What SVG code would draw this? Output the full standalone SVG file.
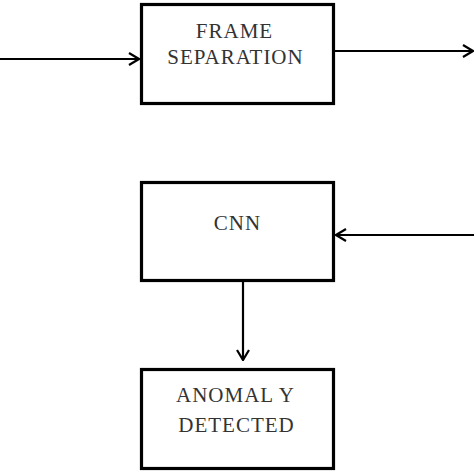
<svg xmlns="http://www.w3.org/2000/svg" width="474" height="474" viewBox="0 0 474 474">
<style>
.box{fill:#fff;stroke:#000;stroke-width:3.2}
.t{font-family:"Liberation Serif","Times New Roman",serif;font-size:21px;fill:#333;text-anchor:middle;letter-spacing:1px}
.c{stroke:#000;stroke-width:2.2;fill:none}
</style>
<defs>
<marker id="ah" viewBox="0 0 12 14" refX="11" refY="7" markerWidth="12" markerHeight="14" markerUnits="userSpaceOnUse" orient="auto">
<path d="M1,1 L11,7 L1,13" fill="none" stroke="#000" stroke-width="2.2"/>
</marker>
</defs>
<rect width="474" height="474" fill="#fff"/>
<g id="connectors">
<line class="c" x1="0" y1="59" x2="139" y2="59" marker-end="url(#ah)"/>
<line class="c" x1="335" y1="51" x2="473" y2="51" marker-end="url(#ah)"/>
<line class="c" x1="474" y1="235" x2="336" y2="235" marker-end="url(#ah)"/>
<line class="c" x1="243" y1="282" x2="243" y2="360" marker-end="url(#ah)"/>
</g>
<g id="frame-separation">
<rect class="box" x="141.5" y="4.5" width="192" height="99"/>
<text class="t" x="234.5" y="38">FRAME</text>
<text class="t" x="235.5" y="64">SEPARATION</text>
</g>
<g id="cnn">
<rect class="box" x="141.5" y="182.5" width="192" height="98"/>
<text class="t" x="237.5" y="230">CNN</text>
</g>
<g id="anomaly-detected">
<rect class="box" x="141.5" y="369.5" width="192" height="99"/>
<text class="t" x="235.5" y="402">ANOMAL Y</text>
<text class="t" x="236.5" y="432">DETECTED</text>
</g>
</svg>
